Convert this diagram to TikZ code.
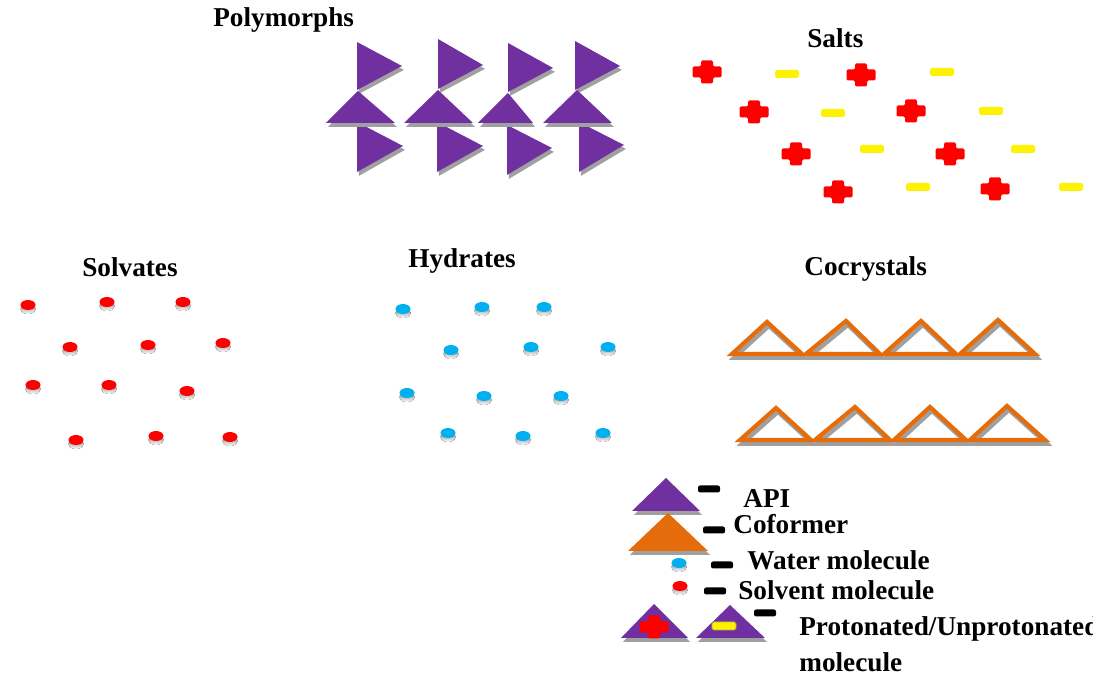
\documentclass[tikz,border=0pt]{standalone}
\usepackage{fontspec}
\setmainfont{Liberation Serif}
\begin{document}
\begin{tikzpicture}[x=0.02cm,y=-0.02cm,font={\fontsize{15.5}{18}\selectfont\bfseries},
  lbl/.style={anchor=base west,inner sep=0pt},
  api/.style={fill=apicol,preaction={fill=shade,transform canvas={xshift=1.1pt,yshift=-2.2pt}}},
  coformer/.style={fill=cofcol,preaction={fill=shade,transform canvas={xshift=1.1pt,yshift=-2.2pt}}},
  cocry/.style={draw=cofcol,line width=2.4pt,preaction={draw=shade,line width=2.4pt,transform canvas={xshift=1.1pt,yshift=-2.2pt}}},
  pics/droplet/.style={code={\fill[shade] (0,4) ellipse (7.5 and 5); \fill[#1] (0,0) ellipse (7.5 and 5);}},
  pics/cation/.style={code={\fill[red,rounded corners=0.8pt] (-6,-11.5)--(6,-11.5)--(6,-5.5)--(14.5,-5.5)--(14.5,5.5)--(6,5.5)--(6,11.5)--(-6,11.5)--(-6,5.5)--(-14.5,5.5)--(-14.5,-5.5)--(-6,-5.5)--cycle;}},
  pics/anion/.style={code={\fill[yellow,rounded corners=1pt] (-12,-4) rectangle (12,4);}},
  pics/bar/.style={code={\fill[black,rounded corners=1.2pt] (-11,-3.5) rectangle (11,3.5);}}]
\definecolor{apicol}{RGB}{112,48,160}
\definecolor{cofcol}{RGB}{228,108,10}
\definecolor{watcol}{RGB}{0,176,240}
\definecolor{shade}{RGB}{160,160,160}
\useasboundingbox (0,0) rectangle (1093,688);
\node[lbl] (poly) at (213,27) {Polymorphs};
\fill[api] (357,42)--(357,90)--(402,66)--cycle;
\fill[api] (438,39)--(438,89)--(483,65)--cycle;
\fill[api] (508,43)--(508,92)--(553,68)--cycle;
\fill[api] (575,41)--(575,90)--(620,66)--cycle;
\fill[api] (357,122)--(357,172)--(403,146)--cycle;
\fill[api] (437,122)--(437,172)--(483,146)--cycle;
\fill[api] (507,125)--(507,175)--(552,148)--cycle;
\fill[api] (579,122)--(579,172)--(624,145)--cycle;
\fill[api] (326,123)--(358,91)--(395,123)--cycle;
\fill[api] (404,123)--(438,90)--(473,123)--cycle;
\fill[api] (478,123)--(508,93)--(533,123)--cycle;
\fill[api] (543,123)--(577,90)--(612,123)--cycle;
\node[lbl] (salts) at (807,48) {Salts};
\pic at (707,72) {cation};
\pic at (861,75) {cation};
\pic at (754,112) {cation};
\pic at (911,111) {cation};
\pic at (796,154) {cation};
\pic at (950,154) {cation};
\pic at (838,192) {cation};
\pic at (995,189) {cation};
\pic at (787,74) {anion};
\pic at (942,72) {anion};
\pic at (833,113) {anion};
\pic at (991,111) {anion};
\pic at (872,149) {anion};
\pic at (1023,149) {anion};
\pic at (918,187) {anion};
\pic at (1071,187) {anion};
\node[lbl] (solv) at (82,277) {Solvates};
\pic at (28,305) {droplet=red};
\pic at (107,302) {droplet=red};
\pic at (183,302) {droplet=red};
\pic at (70,347) {droplet=red};
\pic at (148,345) {droplet=red};
\pic at (223,343) {droplet=red};
\pic at (33,385) {droplet=red};
\pic at (109,385) {droplet=red};
\pic at (187,391) {droplet=red};
\pic at (76,440) {droplet=red};
\pic at (156,436) {droplet=red};
\pic at (230,437) {droplet=red};
\node[lbl] (hyd) at (408,268) {Hydrates};
\pic at (403,309) {droplet=watcol};
\pic at (482,307) {droplet=watcol};
\pic at (544,307) {droplet=watcol};
\pic at (451,350) {droplet=watcol};
\pic at (531,347) {droplet=watcol};
\pic at (608,347) {droplet=watcol};
\pic at (407,393) {droplet=watcol};
\pic at (484,396) {droplet=watcol};
\pic at (561,396) {droplet=watcol};
\pic at (448,433) {droplet=watcol};
\pic at (523,436) {droplet=watcol};
\pic at (603,433) {droplet=watcol};
\node[lbl] (cocr) at (804,276) {Cocrystals};
\draw[cocry] (732,354)--(767,322)--(802,354)--cycle;
\draw[cocry] (806,354)--(846,321)--(880,354)--cycle;
\draw[cocry] (884,354)--(921,321)--(956,354)--cycle;
\draw[cocry] (960,354)--(998,320)--(1035,354)--cycle;
\draw[cocry] (740,440)--(776,408)--(811,440)--cycle;
\draw[cocry] (815,440)--(855,407)--(890,440)--cycle;
\draw[cocry] (894,440)--(930,407)--(966,440)--cycle;
\draw[cocry] (970,440)--(1007,406)--(1045,440)--cycle;
\fill[api] (632,511)--(666,478)--(700,511)--cycle;
\pic at (709,489) {bar};
\node[lbl] (api) at (743,508) {API};
\fill[coformer] (628,551)--(668,513)--(708,551)--cycle;
\pic at (714,530) {bar};
\node[lbl] (cof) at (733,534) {Coformer};
\pic at (679,563) {droplet=watcol};
\pic at (722,565) {bar};
\node[lbl] (water) at (747,570) {Water molecule};
\pic at (680,586) {droplet=red};
\pic at (715,591) {bar};
\node[lbl] (solvent) at (738,600) {Solvent molecule};
\fill[api] (621,638)--(654,604)--(688,638)--cycle;
\pic at (654,627) {cation};
\fill[api] (696,638)--(730,605)--(765,638)--cycle;
\filldraw[fill=yellow,draw=olive!60,line width=0.5pt,rounded corners=1pt] (712,622) rectangle (736,630);
\pic at (765,613) {bar};
\node[lbl] (prot) at (799,636) {Protonated/Unprotonated};
\node[lbl] (mol) at (799,672) {molecule};
\end{tikzpicture}
\end{document}
